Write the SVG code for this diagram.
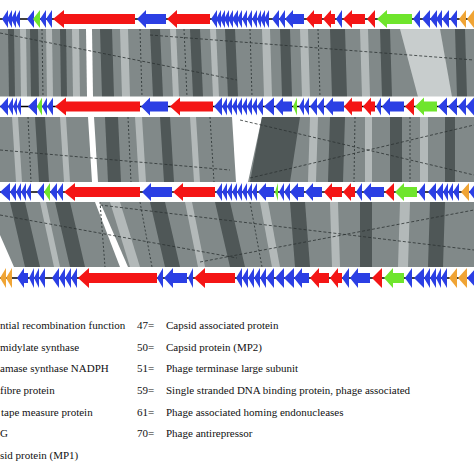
<svg xmlns="http://www.w3.org/2000/svg" width="474" height="474" viewBox="0 0 474 474">
<style>
.b{fill:#2b3fe4}.r{fill:#f41515}.g{fill:#6fe52c}.o{fill:#f0a434}
.bb{stroke:#000;stroke-width:1.5}
.m{fill:#818989}.d{fill:#4f5757}.l{fill:#b3b9b9}.w{fill:#fff}
.x{stroke:#2c3232;stroke-width:0.8;fill:none;stroke-dasharray:3 2}
.v{stroke:#3a4242;stroke-width:1;fill:none;stroke-dasharray:2 2}
.t{font-family:"Liberation Serif","Times New Roman",serif;font-size:11px;fill:#111}
</style>
<rect width="474" height="474" fill="#fff"/>
<g id="connectors">
<!-- gap 1 -->
<rect class="m" x="0" y="29" width="474" height="68"/>
<polygon class="d" points="8,29 14,29 15,97 9,97"/>
<polygon class="d" points="30,29 38,29 39,97 31,97"/>
<polygon class="l" points="20,29 26,29 27,97 21,97"/>
<polygon class="l" points="46,29 52,29 53,97 47,97"/>
<polygon class="d" points="60,29 66,29 67,97 61,97"/>
<polygon class="l" points="72,29 79,29 80,97 73,97"/>
<polygon class="w" points="86,29 92,29 93,97 87,97"/>
<polygon class="d" points="100,29 112,29 114,97 102,97"/>
<polygon class="l" points="120,29 128,29 130,97 122,97"/>
<polygon class="d" points="150,29 160,29 163,97 153,97"/>
<polygon class="l" points="170,29 176,29 179,97 173,97"/>
<polygon class="d" points="190,29 200,29 203,97 193,97"/>
<polygon class="l" points="210,29 216,29 219,97 213,97"/>
<polygon class="d" points="225,29 235,29 238,97 228,97"/>
<polygon class="l" points="262,29 270,29 272,97 264,97"/>
<polygon class="d" points="280,29 290,29 292,97 282,97"/>
<polygon class="l" points="300,29 308,29 310,97 302,97"/>
<polygon class="d" points="330,29 345,29 347,97 332,97"/>
<polygon class="l" points="360,29 368,29 370,97 362,97"/>
<polygon class="d" points="380,29 390,29 392,97 382,97"/>
<polygon fill="#c8cdcd" points="400,29 440,29 452,97 418,97"/>
<polygon class="d" points="455,29 465,29 467,97 457,97"/>
<line class="v" x1="42" y1="29" x2="43" y2="97"/>
<line class="v" x1="140" y1="29" x2="142" y2="97"/>
<line class="v" x1="184" y1="29" x2="187" y2="97"/>
<line class="v" x1="250" y1="29" x2="252" y2="97"/>
<line class="v" x1="318" y1="29" x2="320" y2="97"/>
<line class="x" x1="0" y1="33" x2="237" y2="80"/>
<line class="x" x1="150" y1="35" x2="474" y2="60"/>
<!-- gap 2 -->
<rect class="m" x="0" y="117" width="474" height="65"/>
<polygon class="l" points="12,117 18,117 22,182 16,182"/>
<polygon class="d" points="35,117 45,117 49,182 39,182"/>
<polygon class="l" points="60,117 66,117 70,182 64,182"/>
<polygon class="w" points="88,117 94,117 98,182 92,182"/>
<polygon class="d" points="105,117 118,117 121,182 108,182"/>
<polygon class="l" points="135,117 142,117 146,182 139,182"/>
<polygon class="d" points="160,117 170,117 174,182 164,182"/>
<polygon class="l" points="190,117 196,117 200,182 194,182"/>
<polygon class="w" points="232,117 262,117 248,182 236,182"/>
<polygon class="d" points="262,117 300,117 290,182 250,182"/>
<polygon class="l" points="310,117 318,117 316,182 308,182"/>
<polygon class="d" points="330,117 345,117 343,182 328,182"/>
<polygon class="l" points="365,117 372,117 372,182 365,182"/>
<polygon class="d" points="390,117 402,117 402,182 390,182"/>
<polygon class="l" points="420,117 428,117 428,182 420,182"/>
<polygon class="d" points="445,117 455,117 455,182 445,182"/>
<line class="v" x1="28" y1="117" x2="31" y2="182"/>
<line class="v" x1="128" y1="117" x2="131" y2="182"/>
<line class="v" x1="210" y1="117" x2="214" y2="182"/>
<line class="v" x1="355" y1="117" x2="354" y2="182"/>
<line class="v" x1="410" y1="117" x2="410" y2="182"/>
<line class="x" x1="240" y1="120" x2="474" y2="175"/>
<line class="x" x1="250" y1="178" x2="474" y2="125"/>
<line class="x" x1="0" y1="150" x2="230" y2="170"/>
<!-- gap 3 -->
<polygon class="m" points="0,202 474,202 474,267 14,267 0,235"/>
<polygon class="d" points="10,202 25,202 40,267 25,267"/>
<polygon class="l" points="40,202 46,202 60,267 54,267"/>
<polygon class="d" points="55,202 70,202 85,267 70,267"/>
<polygon class="w" points="95,202 100,202 128,267 120,267"/>
<polygon class="l" points="110,202 120,202 140,267 130,267"/>
<polygon class="d" points="150,202 165,202 180,267 165,267"/>
<polygon class="l" points="185,202 192,202 205,267 198,267"/>
<polygon class="d" points="215,202 230,202 245,267 230,267"/>
<polygon class="l" points="260,202 268,202 280,267 272,267"/>
<polygon class="d" points="290,202 305,202 310,267 295,267"/>
<polygon class="l" points="330,202 338,202 340,267 332,267"/>
<polygon class="d" points="360,202 372,202 372,267 360,267"/>
<polygon class="l" points="400,202 410,202 408,267 398,267"/>
<polygon class="d" points="430,202 445,202 443,267 428,267"/>
<line class="v" x1="100" y1="202" x2="105" y2="267"/>
<line class="v" x1="140" y1="202" x2="152" y2="267"/>
<line class="v" x1="250" y1="202" x2="262" y2="267"/>
<line class="x" x1="0" y1="215" x2="237" y2="258"/>
<line class="x" x1="100" y1="205" x2="474" y2="250"/>
<line class="x" x1="200" y1="262" x2="474" y2="210"/>
</g>
<g id="track1" transform="translate(0,19)">
<line class="bb" x1="0" y1="0" x2="474" y2="0"/>
<polygon class="b" points="2,0 8,-9 8,9"/><polygon class="b" points="7,0 12,-9 12,9"/><polygon class="b" points="11,0 16,-9 16,9"/><polygon class="b" points="15,0 20,-9 20,9"/>
<polygon class="b" points="27,0 34,-9 34,9"/><polygon class="g" points="33,0 40,-9 40,9"/><polygon class="b" points="40,0 46,-9 46,9"/><polygon class="b" points="46,0 52,-9 52,9"/>
<polygon class="r" points="53,0 64,-9 64,-5 135,-5 135,5 64,5 64,9"/>
<polygon class="b" points="137,0 146,-9 146,-5 166,-5 166,5 146,5 146,9"/>
<polygon class="r" points="167,0 177,-9 177,-5 210,-5 210,5 177,5 177,9"/>
<polygon class="b" points="211,0 217,-9 217,9"/><polygon class="b" points="216,0 221,-9 221,9"/><polygon class="b" points="220,0 225,-9 225,9"/><polygon class="b" points="224,0 229,-9 229,9"/><polygon class="b" points="228,0 233,-9 233,9"/><polygon class="b" points="232,0 238,-9 238,9"/><polygon class="b" points="237,0 242,-9 242,9"/><polygon class="b" points="242,0 247,-9 247,9"/><polygon class="b" points="247,0 252,-9 252,9"/><polygon class="b" points="252,0 257,-9 257,9"/><polygon class="b" points="257,0 261,-9 261,9"/><polygon class="b" points="260,0 265,-9 265,9"/><polygon class="b" points="264,0 269,-9 269,9"/>
<polygon class="b" points="272,0 279,-9 279,9"/><polygon class="b" points="279,0 285,-9 285,9"/>
<polygon class="b" points="285,0 293,-9 293,-5 304,-5 304,5 293,5 293,9"/>
<polygon class="r" points="306,0 314,-9 314,-5 322,-5 322,5 314,5 314,9"/>
<polygon class="r" points="323,0 331,-9 331,-5 335,-5 335,5 331,5 331,9"/>
<polygon class="b" points="336,0 342,-9 342,9"/>
<polygon class="r" points="343,0 352,-9 352,-5 365,-5 365,5 352,5 352,9"/>
<polygon class="r" points="367,0 375,-9 375,9"/>
<polygon class="g" points="377,0 387,-9 387,-5 412,-5 412,5 387,5 387,9"/>
<polygon class="b" points="413,0 420,-9 420,9"/><polygon class="b" points="422,0 430,-9 430,9"/><polygon class="b" points="430,0 437,-9 437,9"/><polygon class="b" points="436,0 442,-9 442,9"/><polygon class="b" points="442,0 449,-9 449,9"/><polygon class="b" points="450,0 457,-9 457,9"/>
<polygon class="o" points="459,0 466,-9 466,9"/><polygon class="o" points="467,0 474,-9 474,9"/>
</g>
<g id="track2" transform="translate(0,106.5)">
<rect class="w" x="0" y="-10" width="474" height="20"/>
<line class="bb" x1="0" y1="0" x2="474" y2="0"/>
<polygon class="b" points="0,0 8,-9 8,9"/><polygon class="b" points="8,0 13,-9 13,9"/><polygon class="b" points="13,0 17,-9 17,9"/><polygon class="b" points="17,0 21,-9 21,9"/>
<polygon class="b" points="28,0 37,-9 37,9"/><polygon class="g" points="37,0 42,-9 42,9"/><polygon class="b" points="42,0 47,-9 47,9"/><polygon class="b" points="47,0 53,-9 53,9"/>
<polygon class="r" points="55,0 66,-9 66,-5 140,-5 140,5 66,5 66,9"/>
<polygon class="b" points="141,0 150,-9 150,-5 168,-5 168,5 150,5 150,9"/>
<polygon class="r" points="170,0 180,-9 180,-5 213,-5 213,5 180,5 180,9"/>
<polygon class="b" points="214,0 222,-9 222,9"/><polygon class="b" points="222,0 227,-9 227,9"/><polygon class="b" points="227,0 232,-9 232,9"/><polygon class="b" points="232,0 237,-9 237,9"/><polygon class="b" points="237,0 242,-9 242,9"/><polygon class="b" points="242,0 247,-9 247,9"/><polygon class="b" points="247,0 252,-9 252,9"/><polygon class="b" points="252,0 257,-9 257,9"/><polygon class="b" points="257,0 263,-9 263,9"/>
<polygon class="b" points="264,0 274,-9 274,9"/>
<polygon class="b" points="275,0 283,-9 283,-5 292,-5 292,5 283,5 283,9"/>
<polygon class="g" points="293,0 297,-9 297,9"/>
<polygon class="b" points="299,0 304,-9 304,9"/><polygon class="b" points="304,0 309,-9 309,9"/><polygon class="b" points="310,0 317,-9 317,9"/><polygon class="b" points="317,0 324,-9 324,9"/>
<polygon class="b" points="325,0 333,-9 333,-5 344,-5 344,5 333,5 333,9"/>
<polygon class="r" points="344,0 352,-9 352,-5 362,-5 362,5 352,5 352,9"/>
<polygon class="r" points="363,0 371,-9 371,-5 375,-5 375,5 371,5 371,9"/>
<polygon class="b" points="376,0 381,-9 381,9"/>
<polygon class="b" points="382,0 390,-9 390,-5 404,-5 404,5 390,5 390,9"/>
<polygon class="r" points="405,0 414,-9 414,9"/>
<polygon class="g" points="415,0 424,-9 424,-5 437,-5 437,5 424,5 424,9"/>
<polygon class="b" points="438,0 447,-9 447,9"/><polygon class="b" points="448,0 457,-9 457,9"/><polygon class="b" points="458,0 466,-9 466,9"/><polygon class="b" points="466,0 474,-9 474,9"/>
</g>
<g id="track3" transform="translate(0,192)">
<rect class="w" x="0" y="-10" width="474" height="20"/>
<line class="bb" x1="0" y1="0" x2="474" y2="0"/>
<polygon class="b" points="0,0 10,-9 10,9"/><polygon class="b" points="10,0 16,-9 16,9"/><polygon class="b" points="16,0 21,-9 21,9"/><polygon class="b" points="21,0 26,-9 26,9"/><polygon class="b" points="26,0 31,-9 31,9"/>
<polygon class="b" points="37,0 44,-9 44,9"/><polygon class="g" points="44,0 50,-9 50,9"/><polygon class="b" points="50,0 57,-9 57,9"/><polygon class="b" points="57,0 63,-9 63,9"/>
<polygon class="r" points="64,0 75,-9 75,-5 140,-5 140,5 75,5 75,9"/>
<polygon class="b" points="142,0 151,-9 151,-5 172,-5 172,5 151,5 151,9"/>
<polygon class="r" points="173,0 183,-9 183,-5 215,-5 215,5 183,5 183,9"/>
<polygon class="b" points="216,0 222,-9 222,9"/><polygon class="b" points="222,0 227,-9 227,9"/><polygon class="b" points="227,0 232,-9 232,9"/><polygon class="b" points="232,0 237,-9 237,9"/><polygon class="b" points="237,0 242,-9 242,9"/><polygon class="b" points="242,0 247,-9 247,9"/><polygon class="b" points="247,0 252,-9 252,9"/><polygon class="b" points="252,0 257,-9 257,9"/>
<polygon class="b" points="258,0 266,-9 266,-5 274,-5 274,5 266,5 266,9"/>
<polygon class="g" points="275,0 278,-9 278,9"/>
<polygon class="b" points="279,0 284,-9 284,9"/><polygon class="b" points="284,0 290,-9 290,9"/>
<polygon class="b" points="290,0 298,-9 298,-5 304,-5 304,5 298,5 298,9"/>
<polygon class="b" points="305,0 313,-9 313,-5 322,-5 322,5 313,5 313,9"/>
<polygon class="r" points="324,0 332,-9 332,-5 342,-5 342,5 332,5 332,9"/>
<polygon class="r" points="343,0 351,-9 351,-5 355,-5 355,5 351,5 351,9"/>
<polygon class="b" points="356,0 362,-9 362,9"/>
<polygon class="b" points="363,0 371,-9 371,-5 384,-5 384,5 371,5 371,9"/>
<polygon class="r" points="385,0 394,-9 394,9"/>
<polygon class="g" points="395,0 404,-9 404,-5 417,-5 417,5 404,5 404,9"/>
<polygon class="b" points="418,0 425,-9 425,9"/><polygon class="b" points="428,0 436,-9 436,9"/><polygon class="b" points="436,0 443,-9 443,9"/><polygon class="b" points="443,0 448,-9 448,9"/><polygon class="b" points="448,0 453,-9 453,9"/><polygon class="b" points="453,0 459,-9 459,9"/>
<polygon class="o" points="461,0 469,-9 469,9"/><polygon class="b" points="469,0 476,-9 476,9"/>
</g>
<g id="track4" transform="translate(0,278)">
<line class="bb" x1="0" y1="0" x2="474" y2="0"/>
<polygon class="o" points="0,0 6,-10 6,10"/><polygon class="o" points="6,0 12,-10 12,10"/>
<polygon class="b" points="17,0 24,-10 24,-5 28,-5 28,5 24,5 24,10"/>
<polygon class="b" points="29,0 34,-10 34,10"/><polygon class="b" points="34,0 39,-10 39,10"/><polygon class="b" points="39,0 45,-10 45,10"/>
<polygon class="b" points="52,0 59,-10 59,10"/><polygon class="b" points="59,0 65,-10 65,10"/><polygon class="b" points="65,0 71,-10 71,10"/><polygon class="b" points="71,0 77,-10 77,10"/>
<polygon class="r" points="78,0 89,-10 89,-5 157,-5 157,5 89,5 89,10"/>
<polygon class="b" points="157,0 163,-10 163,10"/>
<polygon class="b" points="164,0 173,-10 173,-5 187,-5 187,5 173,5 173,10"/>
<polygon class="b" points="188,0 193,-10 193,10"/>
<polygon class="r" points="194,0 205,-10 205,-5 235,-5 235,5 205,5 205,10"/>
<polygon class="b" points="236,0 242,-10 242,10"/><polygon class="b" points="242,0 248,-10 248,10"/><polygon class="b" points="248,0 254,-10 254,10"/><polygon class="b" points="254,0 260,-10 260,10"/><polygon class="b" points="260,0 266,-10 266,10"/><polygon class="b" points="266,0 274,-10 274,10"/>
<polygon class="b" points="275,0 284,-10 284,10"/><polygon class="b" points="284,0 294,-10 294,10"/>
<polygon class="b" points="294,0 302,-10 302,-5 309,-5 309,5 302,5 302,10"/>
<polygon class="r" points="310,0 319,-10 319,-5 329,-5 329,5 319,5 319,10"/>
<polygon class="r" points="330,0 338,-10 338,-5 342,-5 342,5 338,5 338,10"/>
<polygon class="b" points="342,0 349,-10 349,10"/>
<polygon class="b" points="350,0 358,-10 358,-5 370,-5 370,5 358,5 358,10"/>
<polygon class="r" points="372,0 382,-10 382,10"/>
<polygon class="g" points="384,0 393,-10 393,-5 404,-5 404,5 393,5 393,10"/>
<polygon class="b" points="405,0 412,-10 412,10"/><polygon class="b" points="414,0 424,-10 424,10"/><polygon class="b" points="424,0 430,-10 430,10"/><polygon class="b" points="430,0 436,-10 436,10"/><polygon class="b" points="436,0 441,-10 441,10"/><polygon class="b" points="441,0 447,-10 447,10"/>
<polygon class="o" points="449,0 457,-10 457,10"/><polygon class="o" points="458,0 467,-10 467,10"/><polygon class="b" points="467,0 476,-10 476,10"/>
</g>
<g id="legend" class="t">
<text x="0" y="329">ntial recombination function</text>
<text x="0" y="351">midylate synthase</text>
<text x="0" y="372">amase synthase NADPH</text>
<text x="0" y="394">fibre protein</text>
<text x="1" y="416">tape measure protein</text>
<text x="0" y="437">G</text>
<text x="0" y="459">sid protein (MP1)</text>
<text x="137" y="329">47=</text><text x="166" y="329">Capsid associated protein</text>
<text x="137" y="351">50=</text><text x="166" y="351">Capsid protein (MP2)</text>
<text x="137" y="372">51=</text><text x="166" y="372">Phage terminase large subunit</text>
<text x="137" y="394">59=</text><text x="166" y="394">Single stranded DNA binding protein, phage associated</text>
<text x="137" y="416">61=</text><text x="166" y="416">Phage associated homing endonucleases</text>
<text x="137" y="437">70=</text><text x="166" y="437">Phage antirepressor</text>
</g>
</svg>
